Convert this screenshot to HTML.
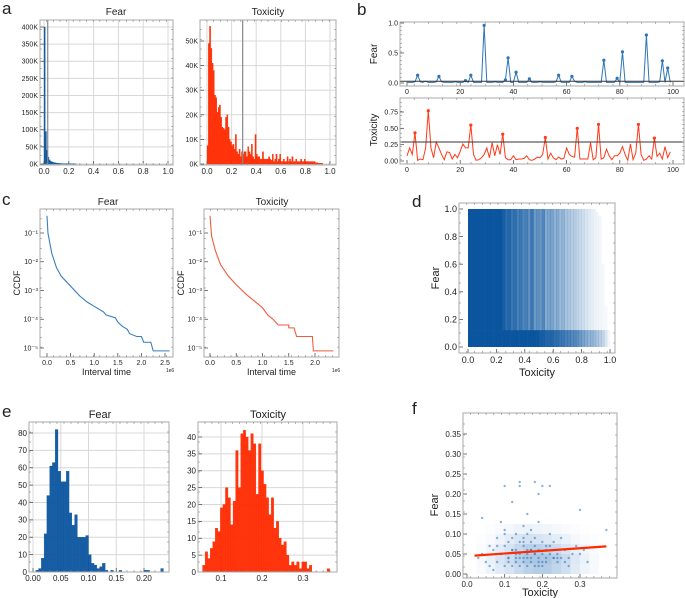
<!DOCTYPE html>
<html><head><meta charset="utf-8"><style>
body{margin:0;background:#fff;}
svg{display:block;font-family:"Liberation Sans","DejaVu Sans",sans-serif;}
</style></head><body>
<svg id="fig" width="685" height="598" viewBox="0 0 685 598"></svg>
<script>
// ---------- DATA ----------
const aFearCountsK = [400,95,40,20,12,8,6,5,4,3.2,2.5,2,1.8,1.5,1.2,1,0.9,0.8,0.7,0.6,0.5,0.5,0.4,0.4,0.3,0.3];
const aFearThreshold = 0.03;
const aToxCountsK = [7.5,49,56,47,41,38,28,27,21,23,24,19,15,14.5,14,19,20,15,10,9,7.5,8,6,12,5,4,6,3,5,4,5,5,3,7,5,4,8,3,2,12,4,3,3,2,2,5,2,2,2,2,3,2,1.5,4,1,2,4,1,2,4,1,1,2,1,1,3,1,2,1,3,1,1,2,1,1,1,2,1,1,2,1,1,1,1,1,1,1,1,0.5,0.5,0.3,0.3,0.3,0.3];
const aToxThreshold = 0.29;
const bFear = [0.01,0.01,0.01,0.02,0.13,0.02,0.01,0.03,0.01,0.01,0.01,0.02,0.11,0.02,0.01,0.01,0.01,0.01,0.02,0.01,0.01,0.01,0.04,0.01,0.13,0.01,0.01,0.01,0.01,0.96,0.01,0.01,0.01,0.02,0.01,0.01,0.01,0.05,0.42,0.01,0.01,0.18,0.01,0.01,0.01,0.01,0.07,0.01,0.01,0.01,0.02,0.01,0.01,0.01,0.01,0.01,0.02,0.13,0.01,0.01,0.01,0.01,0.11,0.03,0.01,0.01,0.01,0.02,0.01,0.01,0.01,0.01,0.01,0.01,0.38,0.01,0.01,0.01,0.01,0.08,0.01,0.52,0.01,0.01,0.01,0.01,0.01,0.01,0.01,0.01,0.80,0.01,0.01,0.01,0.01,0.02,0.37,0.01,0.25,0.01];
const bFearThreshold = 0.03;
const bTox = [0.08,0.2,0.1,0.43,0.01,0.03,0.02,0.2,0.77,0.2,0.05,0.29,0.2,0.1,0.02,0.14,0.13,0.03,0.1,0.05,0.15,0.26,0.2,0.2,0.55,0.1,0.01,0.02,0.05,0.1,0.2,0.05,0.28,0.08,0.25,0.1,0.41,0.05,0.02,0.02,0.08,0.02,0.03,0.03,0.04,0.08,0.02,0.01,0.03,0.06,0.05,0.1,0.36,0.03,0.12,0.05,0.02,0.06,0.03,0.04,0.2,0.1,0.07,0.06,0.5,0.03,0.03,0.03,0.03,0.28,0.02,0.05,0.56,0.03,0.05,0.18,0.08,0.02,0.08,0.08,0.12,0.22,0.1,0.01,0.26,0.02,0.12,0.56,0.1,0.01,0.03,0.08,0.03,0.35,0.07,0.12,0.03,0.22,0.05,0.14];
const bToxThreshold = 0.29;
const cFearX = [0,0.02,0.1,0.2,0.3,0.5,0.7,0.85,1.0,1.2,1.25,1.45,1.5,1.6,1.7,1.75,1.9,2.0,2.05,2.2,2.25,2.6];
const cFearLogY = [-0.4,-1,-1.7,-2.2,-2.5,-2.85,-3.2,-3.4,-3.55,-3.75,-3.85,-3.95,-4.1,-4.25,-4.35,-4.5,-4.6,-4.6,-4.8,-4.8,-5.1,-5.1];
const cToxX = [0,0.03,0.1,0.2,0.35,0.5,0.7,0.9,1.0,1.1,1.2,1.3,1.5,1.5,1.6,1.65,1.95,1.97,2.35];
const cToxLogY = [-0.4,-1.1,-1.6,-2.1,-2.5,-2.8,-3.15,-3.45,-3.6,-3.85,-4,-4.2,-4.2,-4.3,-4.3,-4.6,-4.6,-5.1,-5.1];
const dColDensity = [1,1,1,1,1,1,1,1,1,1,1,1,0.95,0.85,0.9,0.8,0.85,0.75,0.8,0.7,0.75,0.65,0.8,0.6,0.65,0.6,0.7,0.5,0.55,0.55,0.45,0.5,0.4,0.45,0.35,0.35,0.3,0.3,0.25,0.22,0.2,0.16,0.13,0.1,0.08,0.06,0.05,0.04,0.03,0.02];
const dColTop = [1,1,1,1,1,1,1,1,1,1,1,1,1,1,1,1,1,1,1,1,1,1,1,1,1,1,1,1,1,1,1,1,1,1,1,1,1,1,1,1,1,1,1,1,1,0.98,0.95,0.6,0.3,0.1];
const dBottomDensity = [1,1,1,1,1,1,1,1,1,1,1,1,1,1,1,1,1,1,1,1,1,1,1,1,1,0.95,0.95,0.9,0.9,0.9,0.85,0.85,0.8,0.8,0.75,0.75,0.7,0.7,0.65,0.6,0.55,0.5,0.45,0.45,0.4,0.35,0.3,0.25,0.15,0.05];
const eFearCounts = [1,2,8,22,44,61,63,82,58,52,52,58,34,27,33,20,20,20,21,10,5,4,2,3,5,1,0,1,0,0,1,0,0,0,0,0,0,0,0,1,1,0,0,0,0,2];
const eToxCounts = [2,6,4,7,9,13,12,19,20,25,22,14,21,36,25,41,42,40,36,41,38,23,38,30,26,22,17,22,13,15,10,8,9,5,2,3,2,3,1,3,3,1,2,0,0,0,0,0,0,1];
const fTox = [0.03,0.04,0.05,0.06,0.07,0.07,0.08,0.08,0.09,0.09,0.1,0.1,0.1,0.11,0.11,0.11,0.12,0.12,0.12,0.12,0.13,0.13,0.13,0.13,0.14,0.14,0.14,0.14,0.15,0.15,0.15,0.15,0.15,0.16,0.16,0.16,0.16,0.16,0.17,0.17,0.17,0.17,0.17,0.18,0.18,0.18,0.18,0.18,0.19,0.19,0.19,0.19,0.2,0.2,0.2,0.2,0.21,0.21,0.21,0.22,0.22,0.22,0.23,0.23,0.23,0.24,0.24,0.25,0.25,0.26,0.26,0.27,0.28,0.29,0.3,0.31,0.32,0.37,0.1,0.14,0.19,0.21,0.23,0.1,0.08,0.04,0.12,0.16,0.18,0.2,0.22,0.14,0.15,0.13,0.17,0.19,0.11,0.09,0.06,0.24,0.27,0.3];
const fFear = [0.04,0.14,0.03,0.02,0.06,0.01,0.09,0.03,0.13,0.05,0.07,0.02,0.11,0.04,0.08,0.03,0.06,0.02,0.09,0.18,0.04,0.1,0.06,0.03,0.05,0.08,0.02,0.23,0.04,0.07,0.09,0.03,0.12,0.05,0.02,0.06,0.1,0.15,0.04,0.08,0.03,0.06,0.11,0.05,0.02,0.09,0.07,0.23,0.04,0.06,0.13,0.03,0.05,0.08,0.02,0.22,0.04,0.07,0.03,0.05,0.1,0.22,0.04,0.06,0.08,0.03,0.05,0.04,0.09,0.03,0.06,0.04,0.05,0.07,0.16,0.06,0.03,0.11,0.22,0.22,0.2,0.06,0.04,0.1,0.07,0.05,0.06,0.04,0.05,0.03,0.07,0.04,0.08,0.05,0.06,0.02,0.04,0.05,0.07,0.04,0.02,0.05];
// density grid: rows = fear bins of 0.025 from 0 (bottom) ; cols = toxicity bins of 0.025 from 0.025
const fDensityRow0 = [0.05,0.12,0.22,0.3,0.4,0.5,0.55,0.55,0.45,0.35,0.22,0.12,0.06];
const fDensityRow1 = [0.06,0.15,0.28,0.38,0.5,0.6,0.62,0.6,0.5,0.38,0.25,0.14,0.06];
const fDensityRow2 = [0.04,0.1,0.2,0.3,0.42,0.5,0.5,0.45,0.38,0.28,0.18,0.1,0.04];
const fDensityRow3 = [0.02,0.05,0.12,0.2,0.28,0.32,0.3,0.25,0.2,0.14,0.08,0.04,0.02];
const fDensityRow4 = [0.0,0.02,0.05,0.08,0.12,0.14,0.12,0.1,0.08,0.05,0.03,0.01,0.0];
const fLineX = [0.02,0.37];
const fLineY = [0.046,0.069];

// ---------- HELPERS ----------
const NS="http://www.w3.org/2000/svg";
const svg=document.getElementById('fig');
function el(tag,attrs,parent){const e=document.createElementNS(NS,tag);for(const k in attrs)e.setAttribute(k,attrs[k]);(parent||svg).appendChild(e);return e;}
function lin(d0,d1,p0,p1){return v=>p0+(v-d0)*(p1-p0)/(d1-d0);}
function txt(x,y,s,size,anchor,name,rot){const t=el('text',{x:x,y:y,'font-size':size,'text-anchor':anchor||'middle',fill:'#222'});if(rot)t.setAttribute('transform','rotate(-90 '+x+' '+y+')');t.textContent=s;


return t;}
function frame(x0,x1,y0,y1,name){const r=el('rect',{x:x0,y:y0,width:x1-x0,height:y1-y0,fill:'none',stroke:'#aaa','stroke-width':1});


for(let i=1;i<20;i++){const x=x0+(x1-x0)*i/20;el('line',{x1:x,x2:x,y1:y0,y2:y0+2,stroke:'#888','stroke-width':0.6});el('line',{x1:x,x2:x,y1:y1,y2:y1-2,stroke:'#888','stroke-width':0.6});}
for(let i=1;i<15;i++){const y=y0+(y1-y0)*i/15;el('line',{x1:x1,x2:x1-2,y1:y,y2:y,stroke:'#888','stroke-width':0.6});el('line',{x1:x0,x2:x0+2,y1:y,y2:y,stroke:'#888','stroke-width':0.6});}
}
function xticks(vals,labels,sx,y0,y1,size,grid,name){vals.forEach((v,i)=>{const x=sx(v);if(grid)el('line',{x1:x,x2:x,y1:y0,y2:y1,stroke:'#d8d8d8','stroke-width':1});el('line',{x1:x,x2:x,y1:y1,y2:y1-4,stroke:'#555','stroke-width':0.8});txt(x,y1+size+1,labels[i],size,'middle',name);});}
function yticks(vals,labels,sy,x0,x1,size,grid,name){vals.forEach((v,i)=>{const y=sy(v);if(grid)el('line',{x1:x0,x2:x1,y1:y,y2:y,stroke:'#d8d8d8','stroke-width':1});el('line',{x1:x0,x2:x0+4,y1:y,y2:y,stroke:'#555','stroke-width':0.8});txt(x0-2,y+size*0.35,labels[i],size,'end',name);});}
function hist(counts,start,w,sx,sy,color,name){counts.forEach((c,i)=>{if(c<=0)return;const x=sx(start+i*w),x2=sx(start+(i+1)*w);const r=el('rect',{x:x,y:sy(c),width:Math.max(0.6,x2-x),height:sy(0)-sy(c),fill:color,stroke:color,'stroke-width':0.3,'fill-opacity':0.95});

});}
function letter(x,y,s){txt(x,y,s,17,'start','panel-label-'+s);}

// ---------- PANEL A ----------
letter(2,14,'a');
{
 const sx=lin(0,1,44,168), sy=lin(0,400,164,27);
 xticks([0,0.2,0.4,0.6,0.8,1.0],['0.0','0.2','0.4','0.6','0.8','1.0'],sx,20,165,8,true,'a-fear-x-tick');
 yticks([0,50,100,150,200,250,300,350,400],['0K','50K','100K','150K','200K','250K','300K','350K','400K'],sy,40,173,7,true,'a-fear-y-tick');
 hist(aFearCountsK,0,0.01,sx,sy,'#0b559f','a-fear-bar');
 const l=el('line',{x1:sx(aFearThreshold),x2:sx(aFearThreshold),y1:20,y2:165,stroke:'#888','stroke-width':1.2});
 
 frame(40,173,20,165,'a-fear-axes');
 txt(116,15,'Fear',10,'middle','a-fear-title');
}
{
 const sx=lin(0,1,207,330), sy=lin(0,50,164,41);
 xticks([0,0.2,0.4,0.6,0.8,1.0],['0.0','0.2','0.4','0.6','0.8','1.0'],sx,20,165,8,true,'a-tox-x-tick');
 yticks([0,10,20,30,40,50],['0K','10K','20K','30K','40K','50K'],sy,200,336,7,true,'a-tox-y-tick');
 hist(aToxCountsK,0,0.01,sx,sy,'#ff2a00','a-tox-bar');
 const l=el('line',{x1:sx(aToxThreshold),x2:sx(aToxThreshold),y1:20,y2:165,stroke:'#888','stroke-width':1.2});
 
 frame(200,336,20,165,'a-tox-axes');
 txt(268,15,'Toxicity',10,'middle','a-tox-title');
}

// ---------- PANEL B ----------
letter(357,15,'b');
function series(vals,thr,sx,sy,color,name){
 const pts=vals.map((v,i)=>sx(i)+','+sy(v)).join(' ');
 const p=el('polyline',{points:pts,fill:'none',stroke:color,'stroke-width':1});
 
 vals.forEach((v,i)=>{if(v>thr){const c=el('circle',{cx:sx(i),cy:sy(v),r:1.6,fill:color});
 }});
}
{
 const sx=lin(0,100,407,673), sy=lin(0,1,83,23);
 xticks([0,20,40,60,80,100],['0','20','40','60','80','100'],sx,22,86,7,false,'b-fear-x-tick');
 yticks([0,0.5,1],['0.0','0.5','1.0'],sy,400,684,7,false,'b-fear-y-tick');
 series(bFear,bFearThreshold,sx,sy,'#2e75b6','b-fear');
 el('line',{x1:400,x2:684,y1:sy(bFearThreshold),y2:sy(bFearThreshold),stroke:'#333','stroke-width':1});
 frame(400,684,22,86,'b-fear-axes');
 txt(377,54,'Fear',10,'middle','b-fear-ylabel',true);
}
{
 const sx=lin(0,100,407,673), sy=lin(0,0.75,161,112);
 xticks([0,20,40,60,80,100],['0','20','40','60','80','100'],sx,98,164,7,false,'b-tox-x-tick');
 yticks([0,0.25,0.5,0.75],['0.00','0.25','0.50','0.75'],sy,400,684,7,false,'b-tox-y-tick');
 series(bTox,bToxThreshold,sx,sy,'#ff3a1a','b-tox');
 el('line',{x1:400,x2:684,y1:sy(bToxThreshold),y2:sy(bToxThreshold),stroke:'#333','stroke-width':1});
 frame(400,684,98,164,'b-tox-axes');
 txt(377,130,'Toxicity',10,'middle','b-tox-ylabel',true);
}

// ---------- PANEL C ----------
letter(2,205,'c');
function ccdf(xs,ys,x0,x1,ticksX,labelsX,px0,pxTickMax,tickMax,color,nm,title,tx){
 const sx=lin(0,tickMax,px0,pxTickMax), sy=lin(-1,-5,233,348);
 xticks(ticksX,labelsX,sx,209,357,7,false,nm+'-x-tick');
 yticks([-1,-2,-3,-4,-5],['10\u207B\u00B9','10\u207B\u00B2','10\u207B\u00B3','10\u207B\u2074','10\u207B\u2075'],sy,x0,x1,7,false,nm+'-y-tick');
 const p=el('polyline',{points:xs.map((v,i)=>sx(v)+','+sy(ys[i])).join(' '),fill:'none',stroke:color,'stroke-width':1.1});
 
 frame(x0,x1,209,357,nm+'-axes');
 txt(tx,205,title,10,'middle',nm+'-title');
 txt(x0-20,283,'CCDF',9,'middle',nm+'-ylabel',true);
 txt((x0+x1)/2,375,'Interval time',9,'middle',nm+'-xlabel');
 txt(x1-3,372,'1e6',5,'middle',nm+'-offset');
}
ccdf(cFearX,cFearLogY,40,173,[0,0.5,1,1.5,2,2.5],['0.0','0.5','1.0','1.5','2.0','2.5'],47,165,2.5,'#3a7ebf','c-fear','Fear',108);
ccdf(cToxX,cToxLogY,204,339,[0,0.5,1,1.5,2],['0.0','0.5','1.0','1.5','2.0'],210,315,2.0,'#f05a40','c-tox','Toxicity',272);

// ---------- PANEL D ----------
letter(412,207,'d');
{
 const sx=lin(0,1,468,610), sy=lin(0,1,347,209);
 dColDensity.forEach((d,i)=>{
  const xa=sx(i*0.02), xb=sx((i+1)*0.02);
  const r=el('rect',{x:xa,y:sy(dColTop[i]),width:xb-xa+0.3,height:sy(0.12)-sy(dColTop[i]),fill:'#0b559f','fill-opacity':d});
  
  const b=el('rect',{x:xa,y:sy(0.12)-0.3,width:xb-xa+0.3,height:sy(0)-sy(0.12)+0.3,fill:'#0b559f','fill-opacity':Math.max(d,dBottomDensity[i])});
  
 });
 xticks([0,0.2,0.4,0.6,0.8,1.0],['0.0','0.2','0.4','0.6','0.8','1.0'],sx,203,353,9,false,'d-x-tick');
 yticks([0,0.2,0.4,0.6,0.8,1.0],['0.0','0.2','0.4','0.6','0.8','1.0'],sy,459,615,9,false,'d-y-tick');
 frame(459,615,203,353,'d-axes');
 txt(439,278,'Fear',11,'middle','d-ylabel',true);
 txt(537,376,'Toxicity',11,'middle','d-xlabel');
}

// ---------- PANEL E ----------
letter(2,417,'e');
{
 const sx=lin(0,0.2,33,144), sy=lin(0,80,572,433);
 xticks([0,0.05,0.1,0.15,0.2],['0.00','0.05','0.10','0.15','0.20'],sx,422,572,8,true,'e-fear-x-tick');
 yticks([0,10,20,30,40,50,60,70,80],['0','10','20','30','40','50','60','70','80'],sy,29,169,8,true,'e-fear-y-tick');
 hist(eFearCounts,0.005,0.005,sx,sy,'#0b559f','e-fear-bar');
 frame(29,169,422,572,'e-fear-axes');
 txt(100,418,'Fear',11,'middle','e-fear-title');
}
{
 const sx=lin(0.1,0.3,221,303), sy=lin(0,40,572,437);
 xticks([0.1,0.2,0.3],['0.1','0.2','0.3'],sx,422,572,8,true,'e-tox-x-tick');
 yticks([0,5,10,15,20,25,30,35,40],['0','5','10','15','20','25','30','35','40'],sy,198,337,8,true,'e-tox-y-tick');
 hist(eToxCounts,0.055,0.0062,sx,sy,'#ff2a00','e-tox-bar');
 frame(198,337,422,572,'e-tox-axes');
 txt(268,418,'Toxicity',11,'middle','e-tox-title');
}

// ---------- PANEL F ----------
letter(412,414,'f');
{
 const sx=lin(0,0.3,467,580), sy=lin(0,0.35,574,434);
 [fDensityRow0,fDensityRow1,fDensityRow2,fDensityRow3,fDensityRow4].forEach((row,r)=>{
  row.forEach((d,c)=>{
   if(d<=0)return;
   const x0=sx(0.025+c*0.025), x1=sx(0.05+c*0.025), y0=sy((r+1)*0.025), y1=sy(r*0.025);
   const cell=el('rect',{x:x0,y:y0,width:x1-x0,height:y1-y0,fill:'#4a86c5','fill-opacity':d*0.75});
   
   
  });
 });
 fTox.forEach((t,i)=>{const c=el('circle',{cx:sx(t),cy:sy(fFear[i]),r:1.2,fill:'#2e75b6','fill-opacity':0.55});
 });
 const l=el('line',{x1:sx(fLineX[0]),y1:sy(fLineY[0]),x2:sx(fLineX[1]),y2:sy(fLineY[1]),stroke:'#ff2a00','stroke-width':2.2});
 
 xticks([0,0.1,0.2,0.3],['0.0','0.1','0.2','0.3'],sx,413,578,8,false,'f-x-tick');
 yticks([0,0.05,0.1,0.15,0.2,0.25,0.3,0.35],['0.00','0.05','0.10','0.15','0.20','0.25','0.30','0.35'],sy,463,617,8,false,'f-y-tick');
 frame(463,617,413,578,'f-axes');
 txt(438,505,'Fear',11,'middle','f-ylabel',true);
 txt(540,596,'Toxicity',11,'middle','f-xlabel');
}
</script>
</body></html>
